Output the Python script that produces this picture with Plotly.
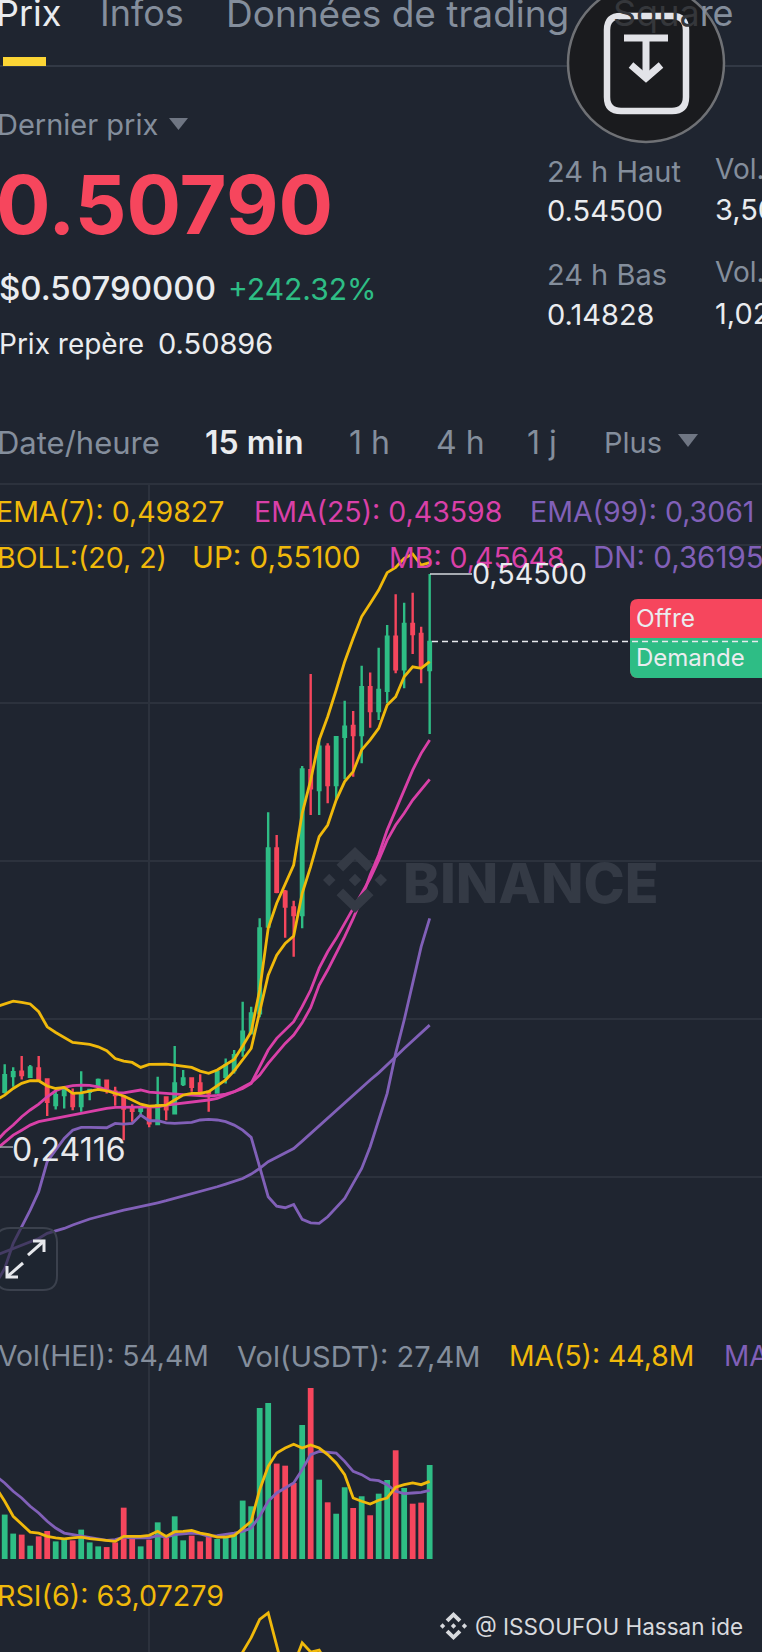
import plotly.graph_objects as go

W, H = 762, 1652

# candles, 15 min
candle_x = list(range(51))
opens = [.2705,.2788,.2811,.2784,.2828,.2770,.2634,.2687,.2696,.2629,.2705,.2740,.2763,.2705,.2678,.2616,.2604,
         .2616,.2533,.2675,.2590,.2745,.2775,.2749,.2705,.2700,.2784,.2820,.2926,.3014,.3120,.3580,.3995,.3765,
         .3682,.3642,.4410,.4304,.4534,.4331,.4587,.4644,.4596,.4849,.4723,.4831,.5117,.4944,.5185,.5132,.4941]
highs = [.2851,.2834,.2894,.2846,.2894,.2770,.2714,.2731,.2722,.2814,.2714,.2775,.2763,.2731,.2687,.2639,.2625,
         .2625,.2784,.2675,.2947,.2820,.2775,.2798,.2705,.2811,.2881,.2926,.3182,.3155,.3624,.4186,.4066,.3774,
         .3718,.4432,.4920,.4578,.4552,.4587,.4778,.4723,.4964,.4927,.5059,.5179,.5342,.5298,.5351,.5170,.5450]
lows = [.2696,.2731,.2770,.2781,.2767,.2576,.2611,.2616,.2607,.2599,.2660,.2714,.2696,.2630,.2448,.2546,.2581,
        .2516,.2528,.2554,.2586,.2735,.2705,.2678,.2599,.2700,.2749,.2802,.2890,.3014,.3100,.3571,.3757,.3521,
        .3421,.3571,.4172,.4172,.4234,.4251,.4361,.4375,.4446,.4635,.4676,.4764,.4923,.4844,.5026,.4870,.4601]
closes = [.2793,.2809,.2793,.2834,.2770,.2652,.2687,.2714,.2629,.2687,.2714,.2767,.2722,.2687,.2616,.2604,.2616,
          .2537,.2634,.2611,.2749,.2775,.2731,.2696,.2696,.2811,.2846,.2899,.3023,.3120,.3571,.3995,.3765,.3686,
          .3642,.4414,.4313,.4534,.4331,.4584,.4640,.4596,.4849,.4723,.4835,.5117,.4944,.5185,.5132,.4958,.5089]

# overlays start one step left of the first candle
line_x = list(range(-1, 51))
boll_up = [.3155,.3170,.3185,.3178,.3170,.3129,.3049,.3019,.2993,.2966,.2961,.2956,.2943,.2922,.2881,.2867,.2860,
           .2834,.2850,.2851,.2851,.2846,.2841,.2834,.2814,.2802,.2820,.2846,.2876,.2947,.3023,.3244,.3571,.3704,
           .3810,.3907,.4181,.4357,.4570,.4693,.4835,.4985,.5109,.5224,.5294,.5365,.5457,.5485,.5533,.5556,.5497,.5510]
ema7 = [.2661,.2687,.2722,.2749,.2763,.2763,.2735,.2722,.2728,.2696,.2699,.2710,.2717,.2710,.2696,.2682,.2661,
        .2639,.2629,.2630,.2634,.2661,.2687,.2696,.2696,.2705,.2735,.2767,.2816,.2873,.2934,.3129,.3323,.3429,
        .3491,.3530,.3757,.3898,.4057,.4119,.4251,.4349,.4402,.4517,.4570,.4631,.4755,.4799,.4905,.4958,.4950,.4985]
ema25 = [.2440,.2490,.2528,.2572,.2608,.2639,.2678,.2710,.2728,.2737,.2740,.2738,.2731,.2717,.2699,.2699,.2705,
         .2714,.2703,.2699,.2696,.2692,.2689,.2687,.2684,.2682,.2685,.2692,.2705,.2722,.2749,.2837,.2926,.2988,
         .3032,.3076,.3156,.3244,.3360,.3447,.3518,.3598,.3677,.3757,.3836,.3933,.4039,.4119,.4181,.4251,.4304,.4361]
boll_mb = [.2400,.2440,.2475,.2501,.2528,.2546,.2555,.2563,.2572,.2581,.2590,.2599,.2608,.2616,.2622,.2622,.2622,
           .2622,.2625,.2625,.2634,.2639,.2646,.2652,.2655,.2661,.2669,.2687,.2705,.2728,.2752,.2793,.2855,.2908,
           .2961,.3005,.3070,.3150,.3270,.3350,.3438,.3527,.3624,.3730,.3854,.3960,.4092,.4198,.4304,.4410,.4499,.4570]
boll_dn = [.1690,.1768,.1901,.1989,.2077,.2175,.2334,.2396,.2457,.2501,.2516,.2516,.2514,.2514,.2537,.2533,.2537,
           .2581,.2551,.2551,.2540,.2537,.2540,.2542,.2555,.2558,.2555,.2546,.2528,.2501,.2463,.2298,.2148,.2098,
           .2090,.2107,.2028,.2010,.2007,.2042,.2092,.2139,.2219,.2298,.2413,.2555,.2696,.2908,.3085,.3279,.3474,.3624]
ema99 = [.1838,.1856,.1874,.1892,.1909,.1927,.1954,.1966,.1980,.1998,.2015,.2030,.2042,.2054,.2067,.2077,.2086,
         .2095,.2104,.2116,.2127,.2139,.2152,.2164,.2175,.2187,.2201,.2215,.2231,.2245,.2268,.2298,.2334,.2357,
         .2381,.2404,.2443,.2484,.2524,.2565,.2606,.2646,.2687,.2726,.2767,.2805,.2846,.2890,.2934,.2975,.3018,.3058]

# volume in millions
volumes = [25.7,14.7,14.1,7.7,13.1,16.2,10.2,11.6,10.8,17.0,9.6,7.3,6.9,9.6,29.7,12.2,7.3,11.2,21.2,12.2,24.7,10.8,
           13.5,10.2,14.1,11.6,13.1,15.0,33.8,30.5,87.4,90.3,55.2,54.0,44.0,77.5,99.0,45.9,32.8,26.2,41.5,29.5,36.3,
           25.3,37.8,45.7,62.9,41.1,32.0,32.6,54.4]
vol_ma5 = [41.1,33.4,24.7,19.9,15.6,15.0,13.1,12.2,11.6,12.2,12.7,11.8,11.2,10.4,10.2,13.1,13.1,13.1,13.7,16.0,13.1,
           15.8,16.0,16.6,15.0,14.1,12.7,12.7,13.5,17.9,21.8,40.1,53.6,61.3,64.2,66.4,64.2,66.0,64.2,60.4,55.6,48.8,
           35.3,33.4,31.8,34.0,35.3,41.5,43.0,44.0,43.0,44.9]
vol_ma10 = [47.8,44.0,39.2,35.3,30.5,26.6,21.8,17.9,15.0,14.1,13.5,12.2,11.6,10.8,11.2,12.7,12.2,12.2,12.2,13.5,12.7,
            14.1,14.7,15.0,14.5,13.1,13.5,14.1,15.0,16.0,17.9,24.7,33.4,38.2,41.1,44.0,51.7,60.4,62.3,61.9,61.3,56.5,
            50.7,48.8,45.9,45.3,43.0,39.2,37.8,38.2,38.6,39.7]

rsi_x = [27, 28, 29, 30, 31, 32, 33, 34, 35, 36, 37, 38]
rsi6 = [40, 65, 76, 90, 95, 65, 45, 55, 72, 65, 66.5, 55]

grid_prices = [.5925, .5603, .4766, .3928, .3090, .2252, .1418]
last_price = .5092
high_price = .5450
low_price = .24116

BG = "#1f2530"
GRID = "#2c323d"
RED = "#f6465d"
GREEN = "#2ebd85"
YELLOW = "#f0b90b"
PINK = "#d940a8"
PURPLE = "#8160b8"
GREY = "#848e9c"
WHITE = "#eaecef"
FONT = "Inter"
LINE_W = 2.8


def px(x):
    return x / W


def py(y):
    return 1 - y / H


def label(x, y, text, size=28, color=WHITE, weight=400):
    return dict(x=px(x), y=py(y), xref="paper", yref="paper", text=text, showarrow=False,
                xanchor="left", yanchor="middle", align="left",
                font=dict(family=FONT, size=size, color=color, weight=weight))


def poly(points, fill=None, line=None, width=0, close=True):
    d = "M" + " L".join(f"{px(a):.5f},{py(b):.5f}" for a, b in points)
    if close:
        d += " Z"
    return dict(type="path", xref="paper", yref="paper", path=d, fillcolor=fill or "rgba(0,0,0,0)",
                line=dict(color=line or "rgba(0,0,0,0)", width=width))


def round_rect(x0, y0, x1, y1, r, fill, line=None, width=0):
    d = (f"M{px(x0+r):.5f},{py(y0):.5f} L{px(x1-r):.5f},{py(y0):.5f} Q{px(x1):.5f},{py(y0):.5f} {px(x1):.5f},{py(y0+r):.5f} "
         f"L{px(x1):.5f},{py(y1-r):.5f} Q{px(x1):.5f},{py(y1):.5f} {px(x1-r):.5f},{py(y1):.5f} "
         f"L{px(x0+r):.5f},{py(y1):.5f} Q{px(x0):.5f},{py(y1):.5f} {px(x0):.5f},{py(y1-r):.5f} "
         f"L{px(x0):.5f},{py(y0+r):.5f} Q{px(x0):.5f},{py(y0):.5f} {px(x0+r):.5f},{py(y0):.5f} Z")
    return dict(type="path", xref="paper", yref="paper", path=d, fillcolor=fill,
                line=dict(color=line or "rgba(0,0,0,0)", width=width))


def logo(cx, cy, r, color):
    out = []
    for dx, dy, s in [(0, 0, .19), (-.78, 0, .19), (.78, 0, .19)]:
        out.append(poly([(cx+(dx-s)*r, cy+dy*r), (cx+dx*r, cy-s*r), (cx+(dx+s)*r, cy+dy*r), (cx+dx*r, cy+s*r)], fill=color))
    for sign in (-1, 1):
        pts = [(0, .62), (-.36, .26), (-.56, .46), (0, 1.0), (.56, .46), (.36, .26)]
        out.append(poly([(cx+a*r, cy+sign*b*r) for a, b in pts], fill=color))
    return out


vol_colors = [GREEN if c >= o else RED for o, c in zip(opens, closes)]

fig = go.Figure()
fig.add_trace(go.Candlestick(x=candle_x, open=opens, high=highs, low=lows, close=closes, whiskerwidth=0,
                             increasing=dict(line=dict(color=GREEN, width=2.4), fillcolor=GREEN),
                             decreasing=dict(line=dict(color=RED, width=2.4), fillcolor=RED)))
for values, color in [(boll_dn, PURPLE), (ema99, PURPLE), (ema25, PINK), (boll_mb, PINK), (boll_up, YELLOW), (ema7, YELLOW)]:
    fig.add_trace(go.Scatter(x=line_x, y=values, mode="lines", line=dict(color=color, width=LINE_W)))

fig.add_trace(go.Bar(x=candle_x, y=volumes, marker=dict(color=vol_colors, line_width=0), width=0.68, yaxis="y2"))
fig.add_trace(go.Scatter(x=line_x, y=vol_ma10, mode="lines", line=dict(color=PURPLE, width=LINE_W), yaxis="y2"))
fig.add_trace(go.Scatter(x=line_x, y=vol_ma5, mode="lines", line=dict(color=YELLOW, width=LINE_W), yaxis="y2"))
fig.add_trace(go.Scatter(x=rsi_x, y=rsi6, mode="lines", line=dict(color=YELLOW, width=LINE_W), yaxis="y3"))

shapes = [
    dict(type="line", xref="paper", yref="paper", x0=0, x1=1, y0=py(66), y1=py(66), line=dict(color="#3a414d", width=1.5)),
    dict(type="rect", xref="paper", yref="paper", x0=px(3), x1=px(46), y0=py(57), y1=py(66), fillcolor="#fcd535", line_width=0),
    poly([(169, 118), (188, 118), (178.5, 130)], fill="#6f7683"),
    poly([(678, 434), (698, 434), (688, 447)], fill="#6f7683"),
    dict(type="line", xref="paper", yref="paper", x0=0, x1=1, y0=py(484), y1=py(484), line=dict(color=GRID, width=2)),
    # bid / ask badge, the dashed price line runs over it
    round_rect(630, 599, 775, 678, 8, RED),
    dict(type="rect", xref="paper", yref="paper", x0=px(630), x1=1, y0=py(638), y1=py(670), fillcolor=GREEN, line_width=0),
    round_rect(630, 640, 775, 678, 8, GREEN),
    # price markers
    dict(type="line", xref="paper", yref="y", x0=px(432), x1=1, y0=last_price, y1=last_price,
         line=dict(color="#e8eaed", width=1.5, dash="6px,4px")),
    dict(type="line", xref="paper", yref="y", x0=px(430), x1=px(472), y0=high_price, y1=high_price, line=dict(color="#d5d8dc", width=1.5)),
    dict(type="line", xref="paper", yref="y", x0=0, x1=px(13), y0=low_price, y1=low_price, line=dict(color="#a0a4ab", width=1.5)),
    # expand button
    round_rect(-4, 1228, 57, 1290, 14, "rgba(30,37,48,0.62)", "#3b414d", 2),
    poly([(28, 1255), (44, 1241)], line="#e6e8ec", width=3, close=False),
    poly([(33, 1241), (44, 1241), (44, 1252)], line="#e6e8ec", width=3, close=False),
    poly([(23, 1263), (7, 1277)], line="#e6e8ec", width=3, close=False),
    poly([(7, 1266), (7, 1277), (18, 1277)], line="#e6e8ec", width=3, close=False),
    # floating record button
    dict(type="circle", xref="paper", yref="paper", x0=px(568), x1=px(724), y0=py(-16), y1=py(142),
         fillcolor="#1a1b1e", line=dict(color="#6f7175", width=2.5)),
    round_rect(607, 16, 686, 111, 14, "rgba(0,0,0,0)", "#e2e3e8", 6.5),
    poly([(624, 38), (668, 38)], line="#e2e3e8", width=7, close=False),
    poly([(646, 38), (646, 76)], line="#e2e3e8", width=7, close=False),
    poly([(631, 65), (646, 78), (661, 65)], line="#e2e3e8", width=7, close=False),
]
shapes += logo(355, 880, 33, "#343a45")
shapes += logo(453.5, 1626, 14, "#d8dade")

annotations = [
    label(-6, 13, "Prix", 36, WHITE),
    label(98, 13, "Infos", 36, GREY),
    label(224, 13, "Données de trading", 37, GREY),
    label(611, 13, '<span style="color:#35373b">Squa</span>re', 36, GREY),
    label(-5, 125, "Dernier prix", 29, GREY),
    label(-6, 205, "0.50790", 81, RED, 700),
    label(-3, 288, "$0.50790000", 33, WHITE, 500),
    label(226, 289, "+242.32%", 30, GREEN),
    label(-3, 344, "Prix repère", 28, WHITE),
    label(156, 344, "0.50896", 29, WHITE),
    label(545, 172, "24 h Haut", 29, GREY),
    label(545, 211, "0.54500", 29, WHITE),
    label(545, 274, "24 h Bas", 29, GREY),
    label(545, 315, "0.14828", 29, WHITE),
    label(713, 169, "Vol.", 28, GREY),
    label(713, 209, "3,50", 29, WHITE),
    label(713, 272, "Vol.", 28, GREY),
    label(713, 313, "1,02", 29, WHITE),
    label(-5, 442, "Date/heure", 31, GREY),
    label(203, 442, "15 min", 32, WHITE, 600),
    label(347, 442, "1 h", 32, GREY),
    label(434, 442, "4 h", 32, GREY),
    label(525, 442, "1 j", 32, GREY),
    label(602, 442, "Plus", 29, GREY),
    label(-6, 511, "EMA(7): 0,49827", 28.5, YELLOW),
    label(252, 511, "EMA(25): 0,43598", 28.5, PINK),
    label(528, 511, "EMA(99): 0,3061", 28.5, PURPLE),
    label(-5, 557, "BOLL:(20, 2)", 28.5, YELLOW),
    label(190, 557, "UP: 0,55100", 29.5, YELLOW),
    label(387, 557, "MB: 0,45648", 28.5, PINK),
    label(591, 557, "DN: 0,36195", 29.5, PURPLE),
    label(470, 574, "0,54500", 28.7, WHITE),
    label(634, 618, "Offre", 24.5, WHITE),
    label(634, 657, "Demande", 24, WHITE),
    label(10, 1149, "0,24116", 32, "#e8eaed"),
    label(401, 882, "BINANCE", 55.5, "#343a45", 800),
    label(-4, 1356, "Vol(HEI): 54,4M", 28.3, GREY),
    label(235, 1356, "Vol(USDT): 27,4M", 29, GREY),
    label(507, 1356, "MA(5): 44,8M", 28.3, YELLOW),
    label(722, 1356, "MA", 28, PURPLE),
    label(-5, 1595, "RSI(6): 63,07279", 28.7, YELLOW),
    label(473, 1626, "@ ISSOUFOU Hassan ide", 22.5, "#d8dade"),
]

fig.update_layout(
    width=W, height=H, margin=dict(l=0, r=0, t=0, b=0), paper_bgcolor=BG, plot_bgcolor=BG,
    showlegend=False, hovermode=False, boxgap=0.58, shapes=shapes, annotations=annotations,
    xaxis=dict(range=[-0.553, 89.1], domain=[0, 1], rangeslider_visible=False, showticklabels=False, ticks="",
               tickvals=[17], showgrid=True, gridcolor=GRID, gridwidth=1.5, zeroline=False, showline=False),
    yaxis=dict(domain=[py(1335), py(484)], range=[.1415, .5927], tickvals=grid_prices, showticklabels=False, ticks="",
               gridcolor=GRID, gridwidth=1.5, zeroline=False),
    yaxis2=dict(domain=[py(1559), py(1335)], range=[0, 129.6], tickvals=[0], showticklabels=False, ticks="",
                gridcolor=GRID, gridwidth=1.5, zeroline=False, anchor="x"),
    yaxis3=dict(domain=[0, py(1559)], range=[65, 136.5], tickvals=[], showticklabels=False, ticks="",
                showgrid=False, zeroline=False, anchor="x"),
)

fig.write_html("out.html", config={"displayModeBar": False},
               post_script="document.body.style.margin='0';document.body.style.overflow='hidden';")
